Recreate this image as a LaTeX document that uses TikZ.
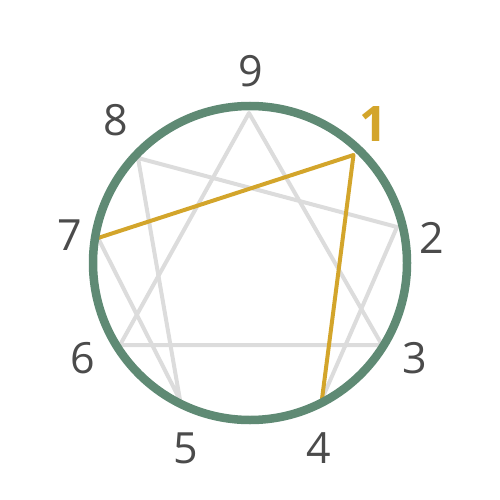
\documentclass[tikz,border=0pt]{standalone}
\usepackage{fontspec}
\setmainfont{Open Sans}
\definecolor{ringgreen}{HTML}{5F8A74}
\definecolor{gold}{HTML}{D3A52B}
\definecolor{lightgrey}{HTML}{DCDCDC}
\definecolor{digit}{HTML}{4B4B4B}
\begin{document}
\begin{tikzpicture}[x=1pt,y=-1pt,
  greyline/.style={draw=lightgrey,line width=4pt,line join=round},
  goldline/.style={draw=gold,line width=4pt,line join=round},
  ring/.style={draw=ringgreen,line width=8.5pt},
  num/.style={text=digit,font=\fontsize{43}{43}\selectfont,inner sep=0pt},
  numgold/.style={text=gold,font=\fontsize{49}{49}\selectfont\bfseries,inner sep=0pt}]
\useasboundingbox (0,0) rectangle (500,500);
\coordinate (c) at (250,263);
\coordinate (p9) at (249,113);
\coordinate (p1) at (353.5,155);
\coordinate (p2) at (397,227);
\coordinate (p3) at (382,345);
\coordinate (p4) at (322,399);
\coordinate (p5) at (180,400);
\coordinate (p6) at (120,345);
\coordinate (p7) at (98,238);
\coordinate (p8) at (138,158);
\draw[greyline] (p9) -- (p3) -- (p6) -- cycle;
\draw[greyline] (p4) -- (p2) -- (p8) -- (p5) -- (p7);
\draw[goldline] (p7) -- (p1) -- (p4);
\node[ring,circle,minimum size=314pt,inner sep=0pt] (ringnode) at (c) {};
\node[num] (l9) at (251,71) {9};
\node[numgold] (l1) at (373,124) {1};
\node[num] (l2) at (432,237.5) {2};
\node[num] (l3) at (415,358) {3};
\node[num] (l4) at (319,448.5) {4};
\node[num] (l5) at (186,448.5) {5};
\node[num] (l6) at (82.5,358) {6};
\node[num] (l7) at (70,235) {7};
\node[num] (l8) at (116,120.5) {8};
\end{tikzpicture}
\end{document}
